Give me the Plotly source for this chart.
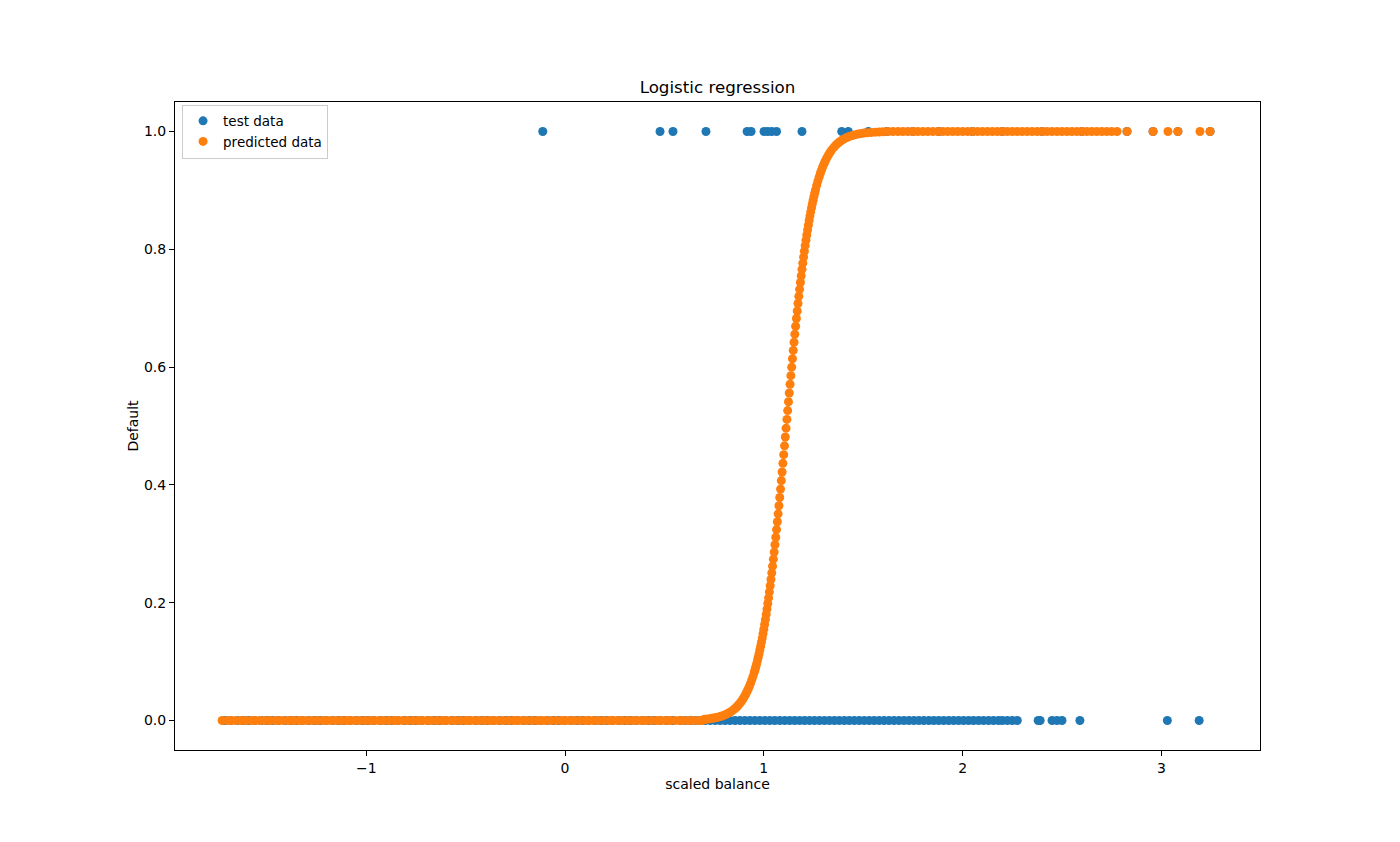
import plotly.graph_objects as go

BLUE = "#1f77b4"
ORANGE = "#ff7f0e"
FONT = "DejaVu Sans, Arial, sans-serif"

# test data: scaled balance of customers that did not default (Default = 0)
test_x_no_default = [
    -1.71, -1.68, -1.65, -1.62, -1.59, -1.56, -1.53, -1.50, -1.47, -1.44, -1.41, -1.38,
    -1.35, -1.32, -1.29, -1.26, -1.23, -1.20, -1.17, -1.14, -1.11, -1.08, -1.05, -1.02,
    -0.99, -0.96, -0.93, -0.90, -0.87, -0.84, -0.81, -0.78, -0.75, -0.72, -0.69, -0.66,
    -0.63, -0.60, -0.57, -0.54, -0.51, -0.48, -0.45, -0.42, -0.39, -0.36, -0.33, -0.30,
    -0.27, -0.24, -0.21, -0.18, -0.15, -0.12, -0.09, -0.06, -0.03, 0.0, 0.03, 0.06,
    0.09, 0.12, 0.15, 0.18, 0.21, 0.24, 0.27, 0.30, 0.33, 0.36, 0.39, 0.42, 0.45, 0.48,
    0.51, 0.54, 0.58, 0.605, 0.63, 0.655, 0.68, 0.705, 0.73, 0.755, 0.78, 0.805, 0.83,
    0.855, 0.88, 0.905, 0.93, 0.955, 0.98, 1.005, 1.03, 1.055, 1.08, 1.105, 1.13, 1.155,
    1.18, 1.205, 1.23, 1.255, 1.28, 1.305, 1.33, 1.355, 1.38, 1.405, 1.43, 1.455, 1.48,
    1.505, 1.53, 1.555, 1.58, 1.605, 1.63, 1.655, 1.68, 1.705, 1.73, 1.755, 1.78, 1.805,
    1.83, 1.855, 1.88, 1.905, 1.93, 1.955, 1.98, 2.005, 2.03, 2.055, 2.08, 2.105, 2.13,
    2.155, 2.18, 2.20, 2.225, 2.25, 2.275, 2.38, 2.39, 2.45, 2.475, 2.50, 2.59, 3.03, 3.19,
]

# test data: scaled balance of customers that defaulted (Default = 1)
test_x_default = [
    -0.112, 0.478, 0.543, 0.709, 0.916, 0.936, 1.001, 1.02, 1.04, 1.064, 1.192, 1.392,
    1.425, 1.526, 1.62, 1.75, 1.88, 2.05, 2.2, 2.4, 2.6, 2.827, 2.958, 3.083, 3.245,
]

# predicted probability of default
pred_x_low = [
    -1.725, -1.70, -1.68, -1.655, -1.63, -1.605, -1.58, -1.56, -1.535, -1.51, -1.485, -1.46,
    -1.44, -1.415, -1.39, -1.365, -1.34, -1.32, -1.295, -1.27, -1.245, -1.22, -1.20, -1.175,
    -1.15, -1.125, -1.10, -1.08, -1.055, -1.03, -1.005, -0.98, -0.96, -0.935, -0.91, -0.885,
    -0.86, -0.84, -0.815, -0.79, -0.765, -0.74, -0.72, -0.695, -0.67, -0.645, -0.62, -0.60,
    -0.575, -0.55, -0.525, -0.50, -0.48, -0.455, -0.43, -0.405, -0.38, -0.36, -0.335, -0.31,
    -0.285, -0.26, -0.24, -0.215, -0.19, -0.165, -0.14, -0.12, -0.095, -0.07, -0.045, -0.02,
    0.0, 0.025, 0.05, 0.075, 0.10, 0.12, 0.145, 0.17, 0.195, 0.22, 0.24, 0.265, 0.29, 0.315,
    0.34, 0.36, 0.385, 0.41, 0.435, 0.46, 0.48, 0.505, 0.53, 0.555, 0.58, 0.60, 0.625, 0.65,
    0.675, 0.69,
]
pred_x_curve = [
    0.70, 0.71, 0.72, 0.73, 0.74, 0.75, 0.76, 0.77, 0.78, 0.79, 0.80, 0.81, 0.82, 0.83,
    0.84, 0.85, 0.856, 0.862, 0.868, 0.874, 0.880, 0.886, 0.892, 0.898, 0.904, 0.910,
    0.916, 0.922, 0.928, 0.934, 0.940, 0.946, 0.952, 0.956, 0.960, 0.964, 0.968, 0.972,
    0.976, 0.980, 0.984, 0.988, 0.992, 0.996, 1.000, 1.004, 1.008, 1.012, 1.016, 1.020,
    1.024, 1.028, 1.032, 1.036, 1.040, 1.044, 1.048, 1.052, 1.056, 1.060, 1.064, 1.068,
    1.072, 1.076, 1.080, 1.084, 1.088, 1.092, 1.096, 1.100, 1.104, 1.108, 1.112, 1.116,
    1.120, 1.124, 1.128, 1.132, 1.136, 1.140, 1.144, 1.148, 1.152, 1.156, 1.160, 1.164,
    1.168, 1.172, 1.176, 1.180, 1.184, 1.188, 1.192, 1.196, 1.200, 1.204, 1.208, 1.212,
    1.216, 1.220, 1.224, 1.228, 1.232, 1.236, 1.240, 1.244, 1.248, 1.252, 1.256, 1.260,
    1.266, 1.272, 1.278, 1.284, 1.290, 1.296, 1.302, 1.308, 1.316, 1.324, 1.332, 1.340,
    1.350, 1.360, 1.370, 1.380, 1.390, 1.400, 1.415, 1.430, 1.445, 1.460, 1.475, 1.490,
    1.505, 1.520, 1.540, 1.560, 1.580, 1.600,
]
pred_prob_curve = [
    0.0020, 0.0024, 0.0027, 0.0032, 0.0037, 0.0043, 0.0050, 0.0058, 0.0067, 0.0078,
    0.0091, 0.0105, 0.0122, 0.0141, 0.0164, 0.0190, 0.0207, 0.0226, 0.0247, 0.0270,
    0.0295, 0.0322, 0.0351, 0.0382, 0.0417, 0.0455, 0.0495, 0.0539, 0.0587, 0.0639,
    0.0695, 0.0755, 0.0820, 0.0867, 0.0915, 0.0966, 0.1020, 0.1076, 0.1135, 0.1197,
    0.1262, 0.1330, 0.1400, 0.1474, 0.1551, 0.1632, 0.1715, 0.1802, 0.1892, 0.1986,
    0.2083, 0.2184, 0.2288, 0.2396, 0.2507, 0.2621, 0.2739, 0.2860, 0.2984, 0.3111,
    0.3241, 0.3374, 0.3509, 0.3647, 0.3787, 0.3929, 0.4073, 0.4219, 0.4366, 0.4514,
    0.4663, 0.4813, 0.4963, 0.5112, 0.5262, 0.5411, 0.5560, 0.5708, 0.5854, 0.5999,
    0.6142, 0.6283, 0.6422, 0.6559, 0.6693, 0.6824, 0.6953, 0.7079, 0.7201, 0.7320,
    0.7436, 0.7549, 0.7659, 0.7764, 0.7867, 0.7966, 0.8061, 0.8153, 0.8242, 0.8327,
    0.8409, 0.8488, 0.8563, 0.8635, 0.8704, 0.8771, 0.8834, 0.8894, 0.8952, 0.9007,
    0.9085, 0.9157, 0.9224, 0.9286, 0.9343, 0.9396, 0.9445, 0.9491, 0.9546, 0.9595,
    0.9639, 0.9679, 0.9722, 0.9760, 0.9793, 0.9821, 0.9845, 0.9867, 0.9893, 0.9915,
    0.9932, 0.9946, 0.9956, 0.9965, 0.9972, 0.9978, 0.9983, 0.9988, 0.9991, 0.9993,
]
pred_x_high = [
    1.625, 1.65, 1.675, 1.70, 1.725, 1.75, 1.775, 1.80, 1.825, 1.85, 1.875, 1.90, 1.925,
    1.95, 1.975, 2.00, 2.025, 2.05, 2.075, 2.10, 2.125, 2.15, 2.175, 2.20, 2.225, 2.25,
    2.275, 2.30, 2.325, 2.35, 2.375, 2.40, 2.425, 2.45, 2.475, 2.50, 2.525, 2.55, 2.575,
    2.60, 2.625, 2.65, 2.675, 2.70, 2.725, 2.75, 2.777, 2.827, 2.958, 3.033, 3.083, 3.194,
    3.245,
]

pred_x = pred_x_low + pred_x_curve + pred_x_high
pred_prob = [0.0] * len(pred_x_low) + pred_prob_curve + [1.0] * len(pred_x_high)

fig = go.Figure()
fig.add_scatter(
    x=test_x_no_default + test_x_default,
    y=[0] * len(test_x_no_default) + [1] * len(test_x_default),
    mode="markers",
    name="test data",
    marker=dict(color=BLUE, size=9, line=dict(width=0)),
)
fig.add_scatter(
    x=pred_x,
    y=pred_prob,
    mode="markers",
    name="predicted data",
    marker=dict(color=ORANGE, size=9, line=dict(width=0)),
)

axis_style = dict(
    showline=True,
    linecolor="black",
    linewidth=1,
    mirror=True,
    showgrid=False,
    zeroline=False,
    ticks="outside",
    ticklen=5,
    tickwidth=1,
    tickcolor="black",
    tickfont=dict(family=FONT, size=14, color="black"),
)

# the page body adds an 8px offset, so margins are shifted to land the axes where the reference has them
fig.update_layout(
    width=1400,
    height=842,
    margin=dict(l=167, r=148, t=94, b=100),
    paper_bgcolor="white",
    plot_bgcolor="white",
    font=dict(family=FONT, size=14, color="black"),
    title=dict(
        text="Logistic regression",
        x=0.5,
        xref="paper",
        y=(842 - 79) / 842,
        yref="container",
        yanchor="middle",
        font=dict(family=FONT, size=16.7, color="black"),
    ),
    legend=dict(
        x=0.0065,
        y=0.996,
        xanchor="left",
        yanchor="top",
        bgcolor="rgba(255,255,255,0.8)",
        bordercolor="#cccccc",
        borderwidth=1,
        font=dict(family=FONT, size=13.5, color="black"),
        tracegroupgap=0,
    ),
    showlegend=True,
)
fig.update_xaxes(
    axis_style,
    range=[-1.962, 3.496],
    tickvals=[-1, 0, 1, 2, 3],
    title=dict(text="scaled balance", standoff=3, font=dict(family=FONT, size=14)),
)
fig.update_yaxes(
    axis_style,
    range=[-0.05, 1.05],
    tickvals=[0, 0.2, 0.4, 0.6, 0.8, 1.0],
    tickformat=".1f",
    title=dict(text="Default", standoff=2, font=dict(family=FONT, size=14)),
)

fig.write_html("out.html")
